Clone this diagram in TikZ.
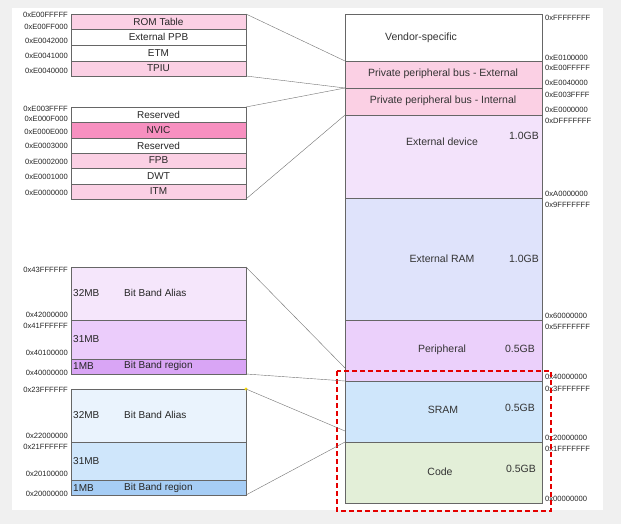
\documentclass[tikz,border=0pt]{standalone}
\usepackage{fontspec}
\setmainfont{Liberation Sans}
\begin{document}
\begin{tikzpicture}[x=1pt,y=-1pt,
  reg/.style={draw=black!60,line width=0.5pt},
  hx/.style={font=\fontsize{7.6}{8}\selectfont,anchor=west,inner sep=0pt,text=black!85},
  hxl/.style={font=\fontsize{7.6}{8}\selectfont,anchor=east,inner sep=0pt,text=black!85},
  rt/.style={font=\fontsize{10}{11}\selectfont,inner sep=0pt,text=black!85},
  bt/.style={font=\fontsize{10.5}{12}\selectfont,inner sep=0pt,text=black!80},
  lnk/.style={draw=black!55,line width=0.4pt}]
\useasboundingbox (0,0) rectangle (621,524);
\fill[black!6] (0,0) rectangle (621,524);
\fill[white] (12,8) rectangle (603,510);
% colours
\definecolor{pk}{HTML}{FBD0E4}
\definecolor{nv}{HTML}{F790C0}
\definecolor{ed}{HTML}{F3E3FB}
\definecolor{er}{HTML}{DFE3FB}
\definecolor{pe}{HTML}{EBD0FB}
\definecolor{sr}{HTML}{CFE6FB}
\definecolor{cd}{HTML}{E3EFD8}
\definecolor{aa}{HTML}{F5E6FB}
\definecolor{ab}{HTML}{EBCCFB}
\definecolor{ac}{HTML}{D9A5F5}
\definecolor{ba}{HTML}{EAF3FD}
\definecolor{bb}{HTML}{CFE6FB}
\definecolor{bc}{HTML}{A6CDF5}
% right column
\draw[reg,fill=white] (345,14) rectangle (542,61);
\draw[reg,fill=pk] (345,61) rectangle (542,88);
\draw[reg,fill=pk] (345,88) rectangle (542,115);
\draw[reg,fill=ed] (345,115) rectangle (542,198);
\draw[reg,fill=er] (345,198) rectangle (542,320);
\draw[reg,fill=pe] (345,320) rectangle (542,381);
\draw[reg,fill=sr] (345,381) rectangle (542,442);
\draw[reg,fill=cd] (345,442) rectangle (542,503);
\node[bt] at (421,38) {Vendor-specific};
\node[bt] at (443,74) {Private peripheral bus - External};
\node[bt] at (443,101) {Private peripheral bus - Internal};
\node[bt] at (442,142) {External device};
\node[bt] at (524,136) {1.0GB};
\node[bt] at (442,259) {External RAM};
\node[bt] at (524,259) {1.0GB};
\node[bt] at (442,350) {Peripheral};
\node[bt] at (520,349) {0.5GB};
\node[bt] at (443,410) {SRAM};
\node[bt] at (520,408) {0.5GB};
\node[bt] at (440,472) {Code};
\node[bt] at (521,469) {0.5GB};
\foreach \t/\y in {0xFFFFFFFF/18,0xE0100000/58,0xE00FFFFF/68,0xE0040000/83,0xE003FFFF/95,0xE0000000/110,0xDFFFFFFF/121,0xA0000000/194,0x9FFFFFFF/205,0x60000000/316,0x5FFFFFFF/327,0x40000000/377,0x3FFFFFFF/389,0x20000000/438,0x1FFFFFFF/449,0x00000000/499}
  \node[hx] at (545,\y) {\t};
\draw[red!90!black,line width=1.2pt,dash pattern=on 5pt off 3pt] (337,371) rectangle (551,511);
% top-left boxes
\foreach \a/\b/\c/\t in {14/29/pk/ROM Table,29/45/white/External PPB,45/61/white/ETM,61/76/pk/TPIU,107/122/white/Reserved,122/138/nv/NVIC,138/153/white/Reserved,153/168/pk/FPB,168/184/white/DWT,184/199/pk/ITM}{
  \draw[reg,fill=\c] (71,\a) rectangle (246,\b);
  \node[rt] at (158.5,{(\a+\b)/2}) {\t};}
\foreach \t/\y in {0xE00FFFFF/15,0xE00FF000/27,0xE0042000/41,0xE0041000/56,0xE0040000/71,0xE003FFFF/109,0xE000F000/119,0xE000E000/132,0xE0003000/146,0xE0002000/162,0xE0001000/177,0xE0000000/193,0x43FFFFFF/270,0x42000000/315,0x41FFFFFF/326,0x40100000/353,0x40000000/373,0x23FFFFFF/390,0x22000000/436,0x21FFFFFF/447,0x20100000/474,0x20000000/494}
  \node[hxl] at (68,\y) {\t};
% bit band boxes
\draw[reg,fill=aa] (71,267) rectangle (246,320);
\draw[reg,fill=ab] (71,320) rectangle (246,359);
\draw[reg,fill=ac] (71,359) rectangle (246,374);
\draw[reg,fill=ba] (71,389) rectangle (246,442);
\draw[reg,fill=bb] (71,442) rectangle (246,480);
\draw[reg,fill=bc] (71,480) rectangle (246,495);
\foreach \y/\s/\t in {293/32MB/Bit Band Alias,339/31MB/,366/1MB/Bit Band region,415/32MB/Bit Band Alias,461/31MB/,488/1MB/Bit Band region}{
  \node[rt,anchor=west] at (73,\y) {\s};
  \node[rt,anchor=west] at (124,\y) {\t};}
\fill[yellow!80!orange] (246,389) circle (1.6);
% connectors
\draw[lnk] (246,14) -- (345,61);
\draw[lnk] (246,76) -- (345,88);
\draw[lnk] (246,107) -- (345,88);
\draw[lnk] (246,199) -- (345,115);
\draw[lnk] (246,267) -- (345,368);
\draw[lnk] (246,374) -- (345,381);
\draw[lnk] (246,389) -- (345,431);
\draw[lnk] (246,495) -- (345,442);
\end{tikzpicture}
\end{document}
